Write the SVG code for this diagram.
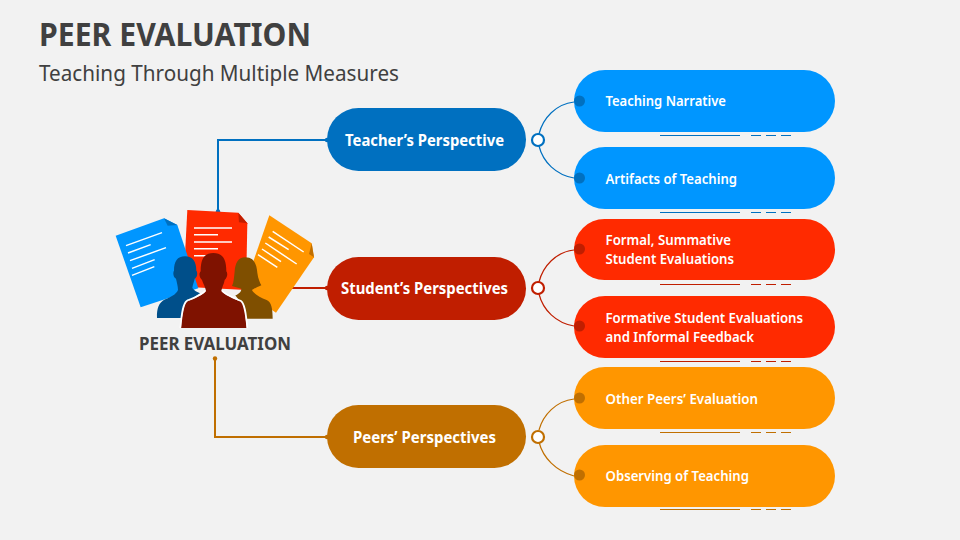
<svg xmlns="http://www.w3.org/2000/svg" width="960" height="540" viewBox="0 0 960 540">
<style>
text{font-family:"Noto Sans","Open Sans","Liberation Sans",sans-serif}
.t{font-size:33px;font-weight:700;fill:#404040}
.s{font-size:21px;fill:#404040}
.m{font-size:16px;font-weight:700;fill:#fff}
.c{font-size:14px;font-weight:600;fill:#fff}
.l{font-size:17.500px;font-weight:700;fill:#404040}
.w{stroke:#fff;stroke-width:4.500;fill:none}
.arc{fill:none;stroke-width:1.200}
.ring{fill:#fff;stroke-width:2.200}
.blue{fill:#0096ff}.dblue{fill:#0070c0}
.red{fill:#ff2a00}.dred{fill:#c01e00}
.org{fill:#ff9600}.dorg{fill:#c06f00}
.sb{stroke:#0070c0}.sr{stroke:#c01e00}.so{stroke:#c06f00}
.dash{fill:none;stroke-width:1}
</style>
<rect width="960" height="540" fill="#f2f2f2"/>
<text class="t" x="39" y="46" textLength="272" lengthAdjust="spacingAndGlyphs">PEER EVALUATION</text>
<text class="s" x="39" y="81" textLength="360" lengthAdjust="spacingAndGlyphs">Teaching Through Multiple Measures</text>
<g id="connectors">
<path d="M218 212V140H327" fill="none" stroke="#0070c0" stroke-width="2"/>
<path d="M292 288H327" fill="none" stroke="#c01e00" stroke-width="2"/>
<path d="M327 437H215V359" fill="none" stroke="#c06f00" stroke-width="2"/>
<circle cx="215" cy="358.500" r="2.200" fill="#c06f00"/>
<circle cx="218" cy="211.500" r="2.200" fill="#0070c0"/>
<circle cx="327" cy="140" r="2.200" fill="#0070c0"/>
<circle cx="327" cy="288" r="2.200" fill="#c01e00"/>
<circle cx="327" cy="437" r="2.200" fill="#c06f00"/>
<path class="arc sb" d="M574 102C556 104 543 118 539 134M539 146C543 162 556 175 574 178"/>
<path class="arc sr" d="M574 250C556 252 543 266 539 282M539 294C543 310 556 323 574 326"/>
<path class="arc so" d="M574 399C556 401 543 415 539 430M539 442C543 458 556 471 574 476"/>
<path class="dash sb" d="M660 135.500H740M751 135.500H761M766 135.500H776M781 135.500H791M660 212.500H740M751 212.500H761M766 212.500H776M781 212.500H791"/>
<path class="dash sr" d="M660 284.500H740M751 284.500H761M766 284.500H776M781 284.500H791M660 361.500H740M751 361.500H761M766 361.500H776M781 361.500H791"/>
<path class="dash so" d="M660 432.500H740M751 432.500H761M766 432.500H776M781 432.500H791M660 509.500H740M751 509.500H761M766 509.500H776M781 509.500H791"/>
</g>
<g id="peer-evaluation">
<g transform="translate(100 180) scale(.33333)">
<path class="org" d="M508 106L635 190L642 232L528 398L430 330Z"/>
<path class="dorg" d="M635 190L627 222L642 232Z"/>
<path class="w" d="M518 154L611 216M506 171L566 209M496 189L590 252M486 207L543 245M474 224L532 262"/>
<path class="red" d="M262 90L415 98L442 130L438 330L250 320Z"/>
<path class="dred" d="M415 98L417 127L442 130Z"/>
<path class="w" d="M282 144H396M282 164H354M282 186H396M282 206H354M282 227H320"/>
<path class="blue" d="M47 167L192 115L232 135L295 325L122 382Z"/>
<path fill="#0070c0" d="M192 115L203 137L232 135Z"/>
<path class="w" d="M78 197L186 158M84 219L152 194M90 242L198 203M96 265L164 239M96 286L163 260"/>
<path fill="#004f8a" d="M255 229C278 229 289 244 289 272C294 278 292 292 284 296C282 306 278 314 277 324C282 332 292 336 300 340L255 370L244 414H171C170 385 176 368 196 358C212 351 228 344 234 330C234 318 230 306 228 296C220 292 218 278 222 272C222 244 232 229 255 229Z"/>
<path fill="#7f4f00" d="M436 232C460 232 470 250 472 278C474 296 480 308 484 316C472 322 460 326 456 330C462 342 480 352 500 360C514 366 518 385 518 416H440L420 365L406 346C416 342 424 336 424 326L396 318C402 306 402 290 404 274C406 250 414 232 436 232Z"/>
<path fill="#7f1200" d="M340 219C366 219 379 234 379 274C384 280 382 294 374 300C372 312 366 322 364 332C372 344 400 356 420 364C432 370 436 400 440 444H243C247 400 251 370 263 364C283 356 311 344 318 332C316 322 310 312 306 300C298 294 296 280 302 274C302 234 314 219 340 219Z"/>
<path fill="none" stroke="#fff" stroke-width="5" d="M241 444C245 400 249 369 261 362C283 353 309 343 316 332M366 332C373 343 401 353 422 362C434 369 438 400 442 444"/>
</g>
<text class="l" x="139" y="350" textLength="152" lengthAdjust="spacingAndGlyphs">PEER EVALUATION</text>
</g>
<g id="teachers-perspective"><rect class="dblue" x="327" y="108" width="199" height="63" rx="31.500"/><text class="m" x="345" y="145.500" textLength="159" lengthAdjust="spacingAndGlyphs">Teacher’s Perspective</text></g>
<g id="students-perspectives"><rect class="dred" x="327" y="257" width="199" height="63" rx="31.500"/><text class="m" x="341" y="293.500" textLength="167" lengthAdjust="spacingAndGlyphs">Student’s Perspectives</text></g>
<g id="peers-perspectives"><rect class="dorg" x="327" y="405" width="199" height="63" rx="31.500"/><text class="m" x="353" y="442.500" textLength="143" lengthAdjust="spacingAndGlyphs">Peers’ Perspectives</text></g>
<g id="ring-teacher"><circle class="ring sb" cx="538" cy="140" r="6"/></g>
<g id="ring-student"><circle class="ring sr" cx="538" cy="288" r="6"/></g>
<g id="ring-peers"><circle class="ring so" cx="538" cy="437" r="6"/></g>
<g id="teaching-narrative"><rect class="blue" x="574" y="70" width="261" height="62" rx="31"/><circle class="dblue" cx="579.500" cy="101" r="5.500"/><text class="c" x="605.500" y="106" textLength="120.500" lengthAdjust="spacingAndGlyphs">Teaching Narrative</text></g>
<g id="artifacts"><rect class="blue" x="574" y="147" width="261" height="62" rx="31"/><circle class="dblue" cx="579.500" cy="178" r="5.500"/><text class="c" x="605.500" y="184" textLength="131.500" lengthAdjust="spacingAndGlyphs">Artifacts of Teaching</text></g>
<g id="formal"><rect class="red" x="574" y="219" width="261" height="61" rx="30.500"/><circle class="dred" cx="579.500" cy="249" r="5.500"/><text class="c" x="605.500" y="245" textLength="125.500" lengthAdjust="spacingAndGlyphs">Formal, Summative</text><text class="c" x="605.500" y="264" textLength="128.500" lengthAdjust="spacingAndGlyphs">Student Evaluations</text></g>
<g id="formative"><rect class="red" x="574" y="296" width="261" height="62" rx="31"/><circle class="dred" cx="579.500" cy="326" r="5.500"/><text class="c" x="605.500" y="323" textLength="197.500" lengthAdjust="spacingAndGlyphs">Formative Student Evaluations</text><text class="c" x="605.500" y="342" textLength="148.500" lengthAdjust="spacingAndGlyphs">and Informal Feedback</text></g>
<g id="other-peers"><rect class="org" x="574" y="367" width="261" height="62" rx="31"/><circle class="dorg" cx="579.500" cy="398" r="5.500"/><text class="c" x="605.500" y="404" textLength="152.500" lengthAdjust="spacingAndGlyphs">Other Peers’ Evaluation</text></g>
<g id="observing"><rect class="org" x="574" y="445" width="261" height="62" rx="31"/><circle class="dorg" cx="579.500" cy="475" r="5.500"/><text class="c" x="605.500" y="481" textLength="143.500" lengthAdjust="spacingAndGlyphs">Observing of Teaching</text></g>
</svg>
